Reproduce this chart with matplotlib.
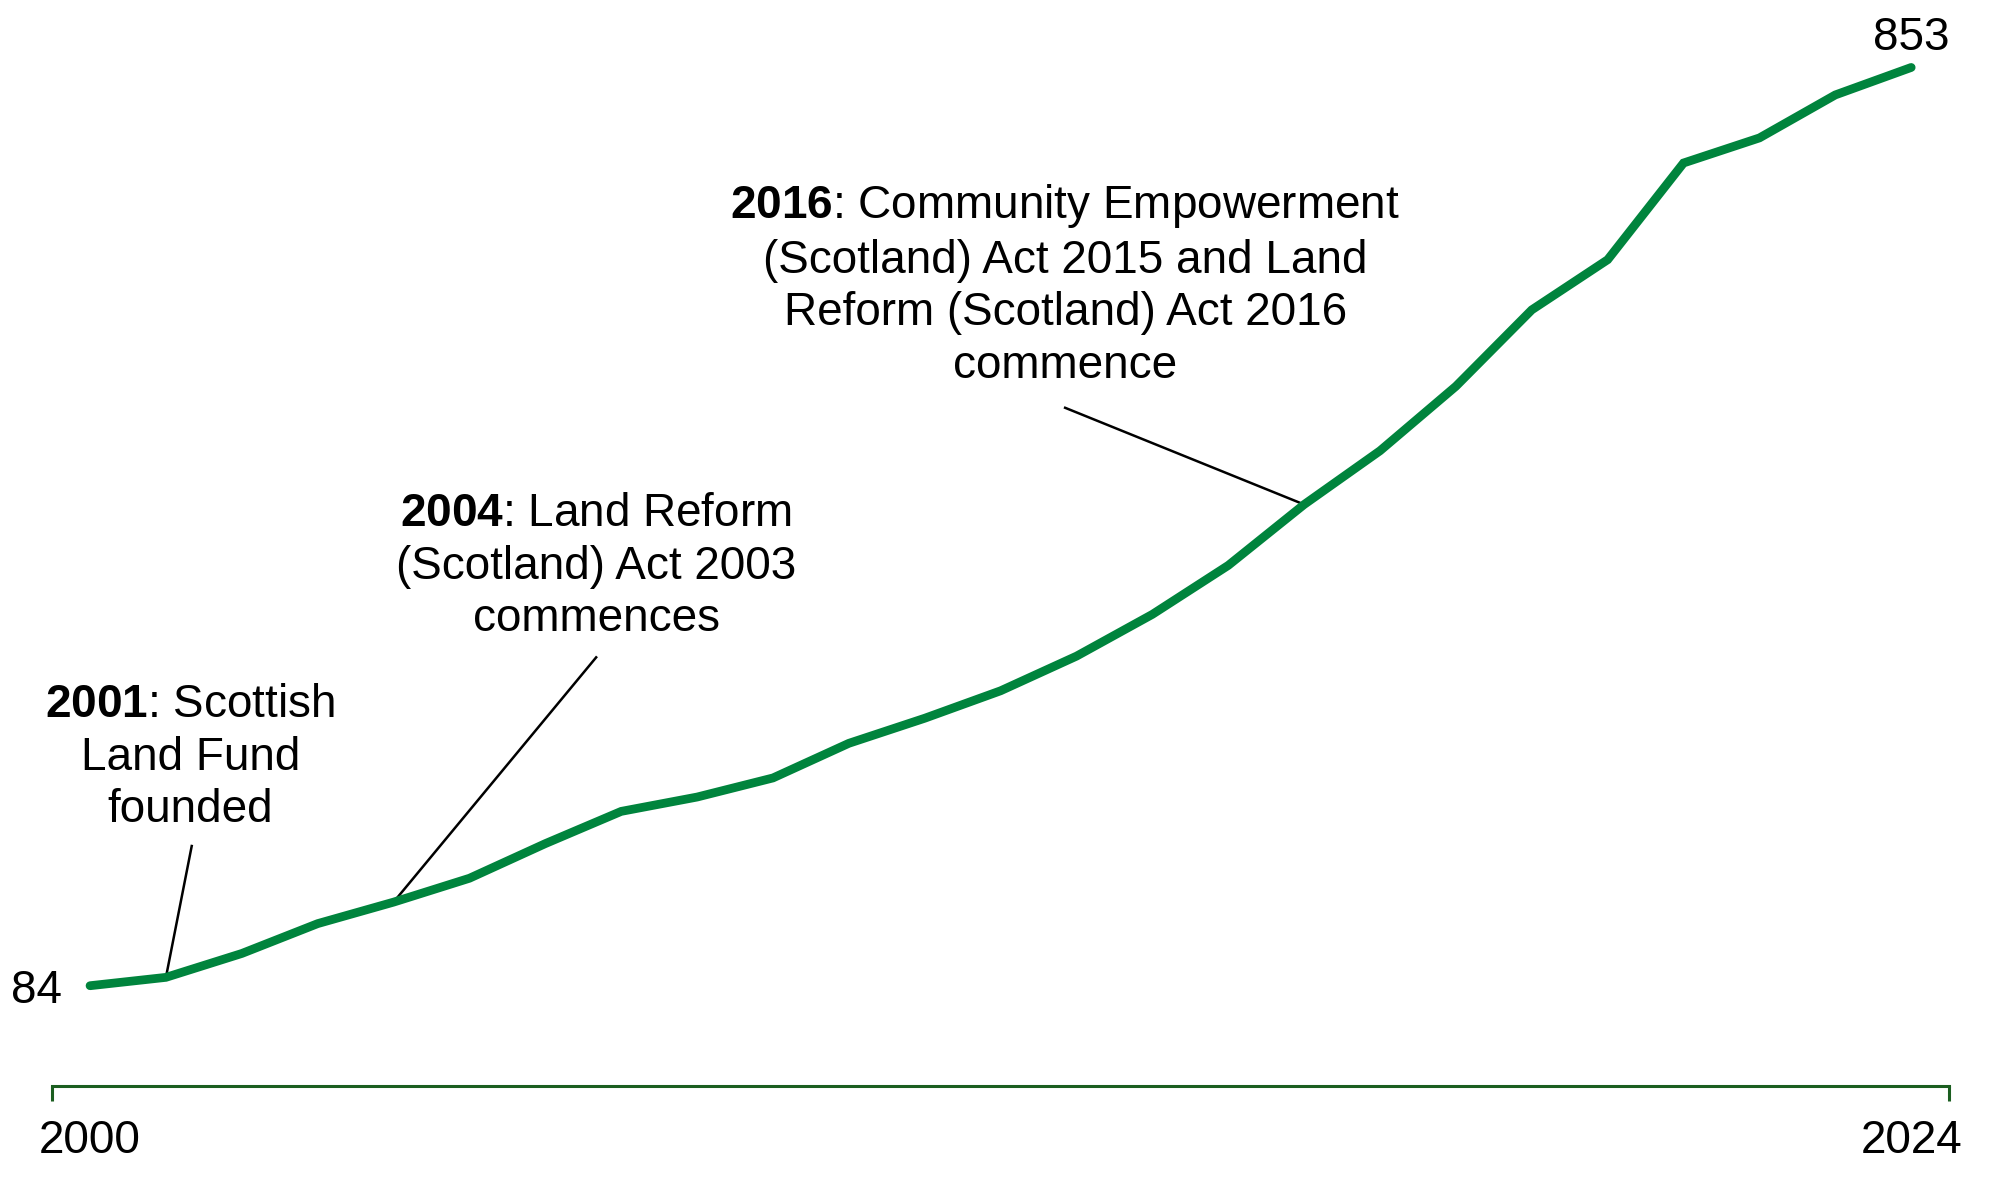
import matplotlib
matplotlib.use("Agg")
import matplotlib.pyplot as plt

# 数据
years = list(range(2000, 2025))
values = [84, 91, 111, 136, 154, 174, 203, 230, 242, 258, 287, 308, 331,
          360, 395, 436, 487, 532, 586, 650, 692, 773, 794, 830, 853]
tick_years = [2000, 2024]

notes = [
    (2001, "$\\bf{2001}$: Scottish\nLand Fund\nfounded"),
    (2004, "$\\bf{2004}$: Land Reform\n(Scotland) Act 2003\ncommences"),
    (2016, "$\\bf{2016}$: Community Empowerment\n(Scotland) Act 2015 and Land\nReform (Scotland) Act 2016\ncommence"),
]
# 文字位置 (x, y) 和引线起点
note_text_pos = [(2001.32, 275), (2006.67, 435), (2012.85, 671)]
note_line_start = [(2001.34, 201), (2006.67, 359), (2012.85, 568)]

plt.rcParams['font.family'] = ['Liberation Sans', 'DejaVu Sans']
plt.rcParams['mathtext.fontset'] = 'custom'
plt.rcParams['mathtext.rm'] = 'Liberation Sans'
plt.rcParams['mathtext.bf'] = 'Liberation Sans:bold'

green = '#00843D'
axis_green = '#1B5E20'

fig = plt.figure(figsize=(19.91, 11.77), dpi=100)
ax = fig.add_axes([0.02617, 0.0773, 0.9528, 0.9227])

ax.plot(years, values, color=green, linewidth=6.3, solid_capstyle='round',
        solid_joinstyle='miter', zorder=3)

# 引线和注释
for (yr, txt), (tx, ty), (lx, ly) in zip(notes, note_text_pos, note_line_start):
    yv = values[years.index(yr)]
    ax.plot([lx, yr], [ly, yv], color='black', linewidth=1.8, zorder=2)
    ax.text(tx, ty, txt, ha='center', va='center', fontsize=33,
            linespacing=1.25, multialignment='center')

# 首尾数值
ax.annotate(str(values[0]), (years[0], values[0]), xytext=(-20, -4),
            textcoords='offset points', ha='right', va='center', fontsize=33)
ax.annotate(str(values[-1]), (years[-1], values[-1]), xytext=(0, 21),
            textcoords='offset points', ha='center', va='center', fontsize=33)

ax.set_xlim(1999.5, 2024.5)
ax.set_ylim(0, 909.5)

for s in ['top', 'right', 'left']:
    ax.spines[s].set_visible(False)
ax.spines['bottom'].set_color(axis_green)
ax.spines['bottom'].set_linewidth(2.2)

ax.set_yticks([])
ax.set_xticks(tick_years)
ax.set_xticklabels([str(y) for y in tick_years], fontsize=33)
ax.set_xticks([1999.5, 2024.5], minor=True)
ax.tick_params(axis='x', which='major', length=0, pad=24)
ax.tick_params(axis='x', which='minor', length=11, width=2.2, color=axis_green)

plt.savefig('out.png', dpi=100)
